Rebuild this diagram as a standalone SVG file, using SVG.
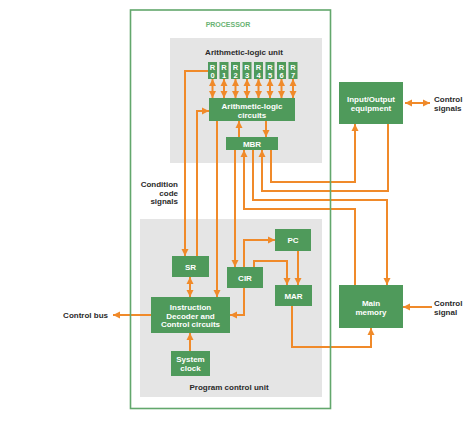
<svg xmlns="http://www.w3.org/2000/svg" width="474" height="428" viewBox="0 0 474 428">
<style>
.box{fill:#4f9a5b}
.area{fill:#e5e5e5}
.bt{font-family:"Liberation Sans",Arial,sans-serif;font-weight:bold;font-size:8px;fill:#ffffff;text-anchor:middle}
.rt{font-family:"Liberation Sans",Arial,sans-serif;font-weight:bold;font-size:7.5px;fill:#ffffff;text-anchor:middle}
.lbl{font-family:"Liberation Sans",Arial,sans-serif;font-weight:bold;font-size:8px;fill:#2a2a2a}
.c{fill:none;stroke:#f08a2a;stroke-width:2}
.e{marker-end:url(#ah)}
.b{marker-start:url(#ah);marker-end:url(#ah)}
</style>
<defs>
<marker id="ah" markerUnits="userSpaceOnUse" markerWidth="8" markerHeight="8" refX="7" refY="3.5" orient="auto-start-reverse" viewBox="0 0 8 7">
<path d="M0,0 L7,3.5 L0,7 z" fill="#f08a2a"/>
</marker>
</defs>
<rect width="474" height="428" fill="#ffffff"/>
<g id="alu-area">
<rect class="area" x="170" y="38" width="152" height="125"/>
<text class="lbl" x="244" y="55" text-anchor="middle">Arithmetic-logic unit</text>
</g>
<g id="pcu-area">
<rect class="area" x="140" y="219" width="182" height="178"/>
<text class="lbl" x="229" y="390" text-anchor="middle">Program control unit</text>
</g>
<g id="connectors">
<path class="c e" d="M208,71 H185 V256"/>
<path class="c e" d="M197,256 V111 H209"/>
<path class="c e" d="M217,121 V297"/>
<path class="c b" d="M212.5,79 V98"/>
<path class="c b" d="M224,79 V98"/>
<path class="c b" d="M235.5,79 V98"/>
<path class="c b" d="M247,79 V98"/>
<path class="c b" d="M258.5,79 V98"/>
<path class="c b" d="M270,79 V98"/>
<path class="c b" d="M281.5,79 V98"/>
<path class="c b" d="M293,79 V98"/>
<path class="c e" d="M239,137 V121"/>
<path class="c e" d="M266,121 V137"/>
<path class="c e" d="M235,150 V267"/>
<path class="c e" d="M355,285 V209 H244 V150"/>
<path class="c e" d="M253,150 V200 H387 V285"/>
<path class="c e" d="M388,124 V191 H262 V150"/>
<path class="c e" d="M271,150 V182 H355 V124"/>
<path class="c e" d="M244,267 V240 H275"/>
<path class="c e" d="M254,267 V261 H287 V285"/>
<path class="c e" d="M298,251 V285"/>
<path class="c e" d="M244,288 V315 H230"/>
<path class="c b" d="M190,277 V297"/>
<path class="c e" d="M190,351 V333"/>
<path class="c e" d="M151,315 H113"/>
<path class="c e" d="M292,306 V347 H371 V328"/>
<path class="c b" d="M405,103 H430"/>
<path class="c e" d="M432,307 H403"/>
</g>
<g id="processor">
<rect x="130.5" y="10" width="200" height="398.5" fill="none" stroke="#62a76c" stroke-width="1.6"/>
<text x="228" y="26.5" font-family="'Liberation Sans',Arial,sans-serif" font-weight="bold" font-size="7" fill="#6ab374" text-anchor="middle">PROCESSOR</text>
</g>
<g id="registers">
<rect class="box" x="208" y="62" width="9" height="17"/><text class="rt" x="212.5" y="69.5">R</text><text class="rt" x="212.5" y="77.5">0</text>
<rect class="box" x="219.5" y="62" width="9" height="17"/><text class="rt" x="224" y="69.5">R</text><text class="rt" x="224" y="77.5">1</text>
<rect class="box" x="231" y="62" width="9" height="17"/><text class="rt" x="235.5" y="69.5">R</text><text class="rt" x="235.5" y="77.5">2</text>
<rect class="box" x="242.5" y="62" width="9" height="17"/><text class="rt" x="247" y="69.5">R</text><text class="rt" x="247" y="77.5">3</text>
<rect class="box" x="254" y="62" width="9" height="17"/><text class="rt" x="258.5" y="69.5">R</text><text class="rt" x="258.5" y="77.5">4</text>
<rect class="box" x="265.5" y="62" width="9" height="17"/><text class="rt" x="270" y="69.5">R</text><text class="rt" x="270" y="77.5">5</text>
<rect class="box" x="277" y="62" width="9" height="17"/><text class="rt" x="281.5" y="69.5">R</text><text class="rt" x="281.5" y="77.5">6</text>
<rect class="box" x="288.5" y="62" width="9" height="17"/><text class="rt" x="293" y="69.5">R</text><text class="rt" x="293" y="77.5">7</text>
</g>
<g id="alc">
<rect class="box" x="209" y="98" width="86" height="23"/>
<text class="bt" x="252" y="109">Arithmetic-logic</text>
<text class="bt" x="252" y="118">circuits</text>
</g>
<g id="mbr">
<rect class="box" x="226" y="137" width="52" height="13"/>
<text class="bt" x="252" y="146.5">MBR</text>
</g>
<g id="io">
<rect class="box" x="339" y="82" width="64" height="42"/>
<text class="bt" x="371" y="102">Input/Output</text>
<text class="bt" x="371" y="110.5">equipment</text>
</g>
<g id="memory">
<rect class="box" x="339" y="285" width="64" height="43"/>
<text class="bt" x="371" y="306">Main</text>
<text class="bt" x="371" y="315">memory</text>
</g>
<g id="sr">
<rect class="box" x="172" y="256" width="37" height="21"/>
<text class="bt" x="190.5" y="269.5">SR</text>
</g>
<g id="cir">
<rect class="box" x="227" y="267" width="36" height="21"/>
<text class="bt" x="245" y="280.5">CIR</text>
</g>
<g id="pc">
<rect class="box" x="275" y="229" width="36" height="22"/>
<text class="bt" x="293" y="243">PC</text>
</g>
<g id="mar">
<rect class="box" x="275" y="285" width="37" height="21"/>
<text class="bt" x="293.5" y="298.5">MAR</text>
</g>
<g id="decoder">
<rect class="box" x="151" y="297" width="79" height="36"/>
<text class="bt" x="190.5" y="310">Instruction</text>
<text class="bt" x="190.5" y="318.5">Decoder and</text>
<text class="bt" x="190.5" y="327">Control circuits</text>
</g>
<g id="clock">
<rect class="box" x="171" y="351" width="39" height="25"/>
<text class="bt" x="190.5" y="362">System</text>
<text class="bt" x="190.5" y="370.5">clock</text>
</g>
<g id="labels">
<text class="lbl" x="178" y="187" text-anchor="end">Condition</text>
<text class="lbl" x="178" y="195.5" text-anchor="end">code</text>
<text class="lbl" x="178" y="204" text-anchor="end">signals</text>
<text class="lbl" x="108" y="318" text-anchor="end">Control bus</text>
<text class="lbl" x="434" y="102">Control</text>
<text class="lbl" x="434" y="110.5">signals</text>
<text class="lbl" x="434" y="306">Control</text>
<text class="lbl" x="434" y="314.5">signal</text>
</g>
</svg>
